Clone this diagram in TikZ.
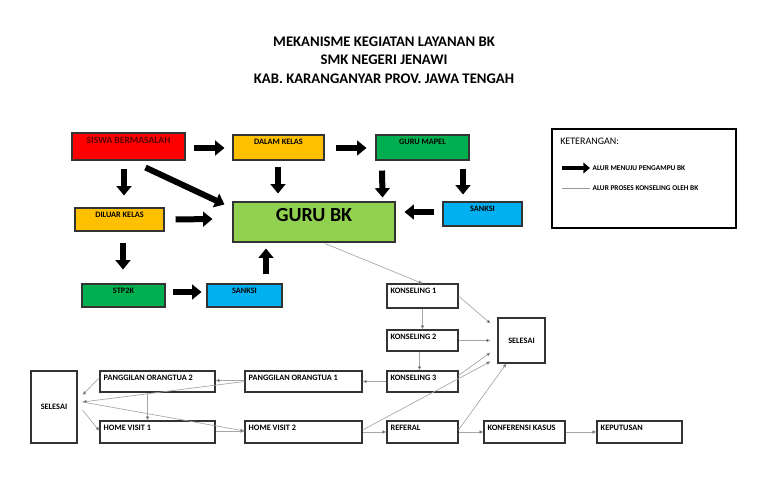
\documentclass[tikz,border=0pt]{standalone}
\usepackage{fontspec}
\setmainfont{Carlito}
\usetikzlibrary{arrows.meta,calc}
\begin{document}
\begin{tikzpicture}[x=0.75pt,y=-0.75pt,
  box/.style={draw=black!80,line width=0.8pt,inner sep=0pt},
  boxtxt/.style={anchor=north,inner sep=3pt,font=\bfseries\fontsize{6.2}{7}\selectfont},
  lefttxt/.style={anchor=north west,inner sep=3pt,font=\bfseries\fontsize{6.2}{7}\selectfont},
  big/.style={line width=4.5pt,-{Triangle[length=7pt,width=11pt]}},
  thin/.style={draw=black!35,line width=0.5pt,-{Triangle[length=3pt,width=2.5pt,fill=black]}}]
\useasboundingbox (0,0) rectangle (768,489);
\newcommand\bx[7]{\node[box,fill=#6,minimum width={(#4-#2)*0.75pt},minimum height={(#5-#3)*0.75pt}] (#1) at ({(#2+#4)/2},{(#3+#5)/2}) {};\node[boxtxt] at (#1.north) {#7};}
\newcommand\bl[6]{\node[box,fill=white,minimum width={(#4-#2)*0.75pt},minimum height={(#5-#3)*0.75pt}] (#1) at ({(#2+#4)/2},{(#3+#5)/2}) {};\node[lefttxt] at (#1.north west) {#6};}
\definecolor{cred}{HTML}{FF0000}
\definecolor{cyel}{HTML}{FFC000}
\definecolor{cgrn}{HTML}{00B050}
\definecolor{clg}{HTML}{92D050}
\definecolor{cblu}{HTML}{00B0F0}
\node[font=\bfseries\fontsize{11}{12}\selectfont] (t1) at (384,42) {MEKANISME KEGIATAN LAYANAN BK};
\node[font=\bfseries\fontsize{11}{12}\selectfont] (t2) at (384,60) {SMK NEGERI JENAWI};
\node[font=\bfseries\fontsize{11}{12}\selectfont] (t3) at (384,79) {KAB. KARANGANYAR PROV. JAWA TENGAH};
\bx{siswa}{72}{133}{185}{160}{cred}{\textcolor{red!35!black}{\fontsize{7.2}{8}\selectfont SISWA BERMASALAH}}
\bx{dalam}{233}{135}{324}{160}{cyel}{DALAM KELAS}
\bx{mapel}{376}{135}{469}{160}{cgrn}{GURU MAPEL}
\bx{diluar}{75}{208}{164}{231}{cyel}{DILUAR KELAS}
\node[box,fill=clg,minimum width={162*0.75pt},minimum height={40*0.75pt}] (gurubk) at (314,222) {};
\node[anchor=north,inner sep=0pt,font=\bfseries\fontsize{15}{17}\selectfont] at ($(gurubk.north)+(0,7)$) {GURU BK};
\bx{sanksia}{443}{202}{522}{226}{cblu}{SANKSI}
\bx{stp}{82}{284}{165}{307}{cgrn}{STP2K}
\bx{sanksib}{207}{284}{282}{307}{cblu}{SANKSI}
\bl{ka}{387}{284}{458}{308}{KONSELING 1}
\bl{kb}{387}{330}{458}{351}{KONSELING 2}
\bl{kc}{387}{371}{458}{392}{KONSELING 3}
\node[box,minimum width={47*0.75pt},minimum height={45*0.75pt},font=\bfseries\fontsize{6.2}{7}\selectfont] (selr) at (521.5,340.5) {SELESAI};
\node[box,minimum width={46*0.75pt},minimum height={72*0.75pt},font=\bfseries\fontsize{6.2}{7}\selectfont] (sell) at (54,407) {SELESAI};
\bl{pb}{100}{371}{215}{392}{PANGGILAN ORANGTUA 2}
\bl{pa}{245}{371}{362}{392}{PANGGILAN ORANGTUA 1}
\bl{ha}{100}{421}{215}{443}{HOME VISIT 1}
\bl{hb}{245}{421}{362}{443}{HOME VISIT 2}
\bl{ref}{387}{421}{458}{443}{REFERAL}
\bl{konf}{484}{421}{565}{443}{KONFERENSI KASUS}
\bl{kep}{597}{421}{682}{443}{KEPUTUSAN}
% legend
\node[draw,line width=2.2pt,minimum width={184*0.75pt},minimum height={99*0.75pt}] (leg) at (644,178.5) {};
\node[anchor=north west,inner sep=0pt,font=\fontsize{7.5}{8}\selectfont] (legt) at (560,138) {KETERANGAN:};
\coordinate (la1) at (562,168); \coordinate (la2) at (590,168);
\draw[line width=3pt,-{Triangle[length=5pt,width=8pt]}] (la1) -- (la2);
\node[anchor=west,inner sep=1pt,font=\bfseries\fontsize{5.5}{6}\selectfont] (l1) at (591,168) {ALUR MENUJU PENGAMPU BK};
\coordinate (lb1) at (562,188); \coordinate (lb2) at (590,188);
\draw[draw=black!40,line width=0.6pt] (lb1) -- (lb2);
\node[anchor=west,inner sep=1pt,font=\bfseries\fontsize{5.5}{6}\selectfont] (l2) at (591,188) {ALUR PROSES KONSELING OLEH BK};
% thick arrows
\draw[big] ($(siswa.east)+(8,1.5)$) -- ($(dalam.west)+(-8,0.5)$);
\draw[big] ($(dalam.east)+(11,0.5)$) -- ($(mapel.west)+(-9,0.5)$);
\draw[big] ($(siswa.south)+(-4.5,8)$) -- ($(diluar.north)+(4.5,-12)$);
\draw[big] ($(siswa.south)+(17,7)$) -- ($(gurubk.north west)+(-8,3)$);
\draw[big] ($(dalam.south)+(-0.5,6)$) -- ($(gurubk.north)+(-36,-8)$);
\draw[big] ($(mapel.south)+(-40.5,10)$) -- ($(gurubk.north east)+(-13,-4)$);
\draw[big] ($(mapel.south)+(40.5,8)$) -- ($(sanksia.north)+(-19.5,-7)$);
\draw[big] ($(sanksia.west)+(-8,-2)$) -- ($(gurubk.east)+(9,-10)$);
\draw[big] ($(diluar.east)+(11,0)$) -- ($(gurubk.west)+(-20,-3)$);
\draw[big] ($(diluar.south)+(3.5,11)$) -- ($(stp.north)+(-0.5,-14)$);
\draw[big] ($(stp.east)+(7,-3.5)$) -- ($(sanksib.west)+(-5,-3.5)$);
\draw[big] ($(sanksib.north)+(21.5,-9)$) -- ($(gurubk.south)+(-48,6)$);
% thin arrows
\draw[thin] ($(gurubk.south)+(11,1)$) -- (ka.north);
\draw[thin] ($(ka.south)+(0,0)$) -- (kb.north);
\draw[thin] ($(kb.south)+(-3,0)$) -- ($(kc.north)+(-3,0)$);
\draw[thin] (ka.east) -- ($(selr.north west)+(-7,6)$);
\draw[thin] (kb.east) -- ($(selr.west)+(-7,0)$);
\draw[thin] ($(kc.north east)+(0,5)$) -- ($(selr.south west)+(-7,-11)$);
\draw[thin] ($(hb.east)+(0,-2)$) -- ($(selr.south west)+(-7,-2)$);
\draw[thin] ($(ref.east)+(0,-2)$) -- ($(selr.south west)+(9,0)$);
\draw[thin] (kc.west) -- (pa.east);
\draw[thin] ($(pa.west)+(0,-1)$) -- ($(pb.east)+(0,-1)$);
\draw[thin] ($(pa.west)+(0,0)$) -- ($(sell.east)+(5,-5)$);
\draw[thin] ($(pb.west)+(0,-4)$) -- ($(sell.east)+(5,-12)$);
\draw[thin] ($(sell.east)+(5,3)$) -- ($(ha.west)+(0,-1)$);
\draw[thin] ($(sell.east)+(5,-5)$) -- ($(hb.west)+(0,-1)$);
\draw[thin] ($(pb.south)+(-10,0)$) -- ($(ha.north)+(-10,0)$);
\draw[thin] ($(ha.east)+(0,-1)$) -- ($(hb.west)+(0,-1)$);
\draw[thin] (hb.east) -- (ref.west);
\draw[thin] (ref.east) -- (konf.west);
\draw[thin] (konf.east) -- (kep.west);
\end{tikzpicture}
\end{document}
